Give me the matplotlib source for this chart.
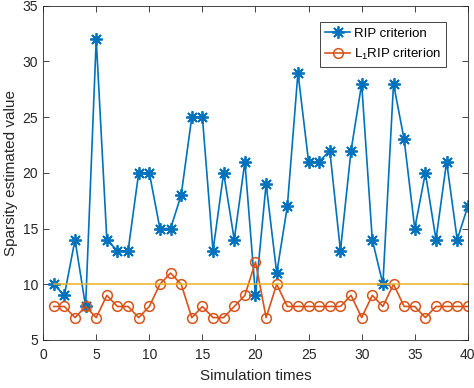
import numpy as np
import matplotlib
matplotlib.use("Agg")
import matplotlib.pyplot as plt

plt.rcParams["font.family"] = ["Liberation Sans", "DejaVu Sans"]
plt.rcParams["mathtext.fontset"] = "custom"
plt.rcParams["mathtext.rm"] = "Liberation Sans"

runs = np.arange(1, 41)
rip = [10, 9, 14, 8, 32, 14, 13, 13, 20, 20, 15, 15, 18, 25, 25, 13, 20, 14, 21, 9,
       19, 11, 17, 29, 21, 21, 22, 13, 22, 28, 14, 10, 28, 23, 15, 20, 14, 21, 14, 17]
l1rip = [8, 8, 7, 8, 7, 9, 8, 8, 7, 8, 10, 11, 10, 7, 8, 7, 7, 8, 9, 12,
         7, 10, 8, 8, 8, 8, 8, 8, 9, 7, 9, 8, 10, 8, 8, 7, 8, 8, 8, 8]
true_sparsity = 10

BLUE = "#0072BD"
ORANGE = "#D95319"
YELLOW = "#EDB120"

fig = plt.figure(figsize=(4.74, 3.88), dpi=100)
ax = fig.add_axes([0.091, 0.124, 0.896, 0.861])

ax.plot(runs, rip, color=BLUE, marker=(8, 2, 0), markersize=9, markeredgewidth=1.3,
        linewidth=1.2, label="RIP criterion")
ax.plot(runs, l1rip, color=ORANGE, marker="o", markersize=7, markerfacecolor="none",
        markeredgewidth=1.1, linewidth=1.2, label="L$_1$RIP criterion")
ax.plot(runs, np.full(len(runs), true_sparsity), color=YELLOW, linewidth=1.1)

ax.set_xlim(0, 40)
ax.set_ylim(5, 35)
ax.set_xticks(range(0, 41, 5))
ax.set_yticks(range(5, 36, 5))
ax.tick_params(direction="in", top=True, right=True, labelsize=10, length=4,
               width=0.6, colors="#262626")
ax.tick_params(axis="x", pad=6)
for s in ax.spines.values():
    s.set_linewidth(0.6)
    s.set_color("#262626")

ax.set_xlabel("Simulation times", fontsize=11, color="#262626", labelpad=5)
ax.set_ylabel("Sparsity estimated value", fontsize=11, color="#262626", labelpad=3)

leg = ax.legend(loc="upper right", fontsize=9.5, fancybox=False, framealpha=1,
                edgecolor="#262626", borderpad=0.4, handlelength=1.9,
                handletextpad=0.3, bbox_to_anchor=(0.965, 0.97))
leg.get_frame().set_linewidth(0.6)

fig.savefig("out.png", dpi=100)
